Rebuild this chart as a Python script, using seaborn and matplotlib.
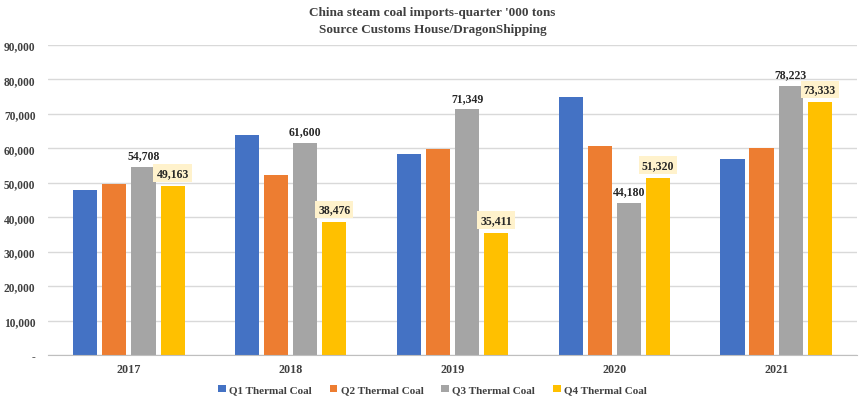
import pandas as pd
import matplotlib
matplotlib.use('Agg')
import matplotlib.pyplot as plt
import seaborn as sns

years = ['2017', '2018', '2019', '2020', '2021']
quarters = ['Q1 Thermal Coal', 'Q2 Thermal Coal', 'Q3 Thermal Coal', 'Q4 Thermal Coal']
q1 = [47900, 63800, 58300, 74800, 56900]
q2 = [49600, 52400, 59700, 60600, 60100]
q3 = [54708, 61600, 71349, 44180, 78223]
q4 = [49163, 38476, 35411, 51320, 73333]
colors = ['#4472C4', '#ED7D31', '#A5A5A5', '#FFC000']
yticks = [0, 10000, 20000, 30000, 40000, 50000, 60000, 70000, 80000, 90000]

rows = []
for q, vals in zip(quarters, [q1, q2, q3, q4]):
    for y, v in zip(years, vals):
        rows.append({'year': y, 'quarter': q, 'value': v})
df = pd.DataFrame(rows)

sns.set_style('white')
plt.rcParams['font.family'] = ['Liberation Serif', 'DejaVu Serif']
plt.rcParams['font.weight'] = 'bold'
txt = '#404040'

fig = plt.figure(figsize=(8.65, 4.06), dpi=100)
ax = fig.add_axes([0.0555, 0.1232, 0.9353, 0.7635])

sns.barplot(data=df, x='year', y='value', hue='quarter', hue_order=quarters,
            palette=colors, saturation=1, width=0.72, gap=0.17, linewidth=0,
            ax=ax, legend=True)

ax.set_ylim(0, 90000)
ax.set_yticks(yticks)
ax.set_yticklabels(['-' if t == 0 else f'{t:,}' for t in yticks],
                   fontsize=8.3, fontweight='bold', color=txt)
ax.set_xticklabels(years, fontsize=8.7, fontweight='bold', color=txt)
ax.tick_params(axis='y', length=0, pad=9)
ax.tick_params(axis='x', length=0, pad=6)
ax.set_xlabel('')
ax.set_ylabel('')
ax.grid(axis='y', color='#D9D9D9', linewidth=1)
ax.set_axisbelow(True)
for s in ['top', 'right', 'left']:
    ax.spines[s].set_visible(False)
ax.spines['bottom'].set_color('#BFBFBF')

# labels only on Q3 and Q4
ax.bar_label(ax.containers[2], labels=[f'{v:,}' for v in q3], padding=4,
             fontsize=8.5, fontweight='bold', color='#262626')
ax.bar_label(ax.containers[3], labels=[f'{v:,}' for v in q4], padding=5,
             fontsize=8.5, fontweight='bold', color='#262626',
             bbox=dict(boxstyle='square,pad=0.25', fc='#FFF2CC', ec='none'))

ax.legend(loc='center', bbox_to_anchor=(0.5, 0.038), bbox_transform=fig.transFigure,
          ncol=4, frameon=False, fontsize=8, handlelength=0.7, handleheight=0.7,
          handletextpad=0.3, columnspacing=1.6, labelcolor=txt)

fig.text(0.5, 0.968, "China steam coal imports-quarter '000 tons", ha='center', va='center',
         fontsize=9.5, fontweight='bold', color=txt)
fig.text(0.5, 0.926, 'Source Customs House/DragonShipping', ha='center', va='center',
         fontsize=9.5, fontweight='bold', color=txt)

fig.savefig('out.png', dpi=100)
